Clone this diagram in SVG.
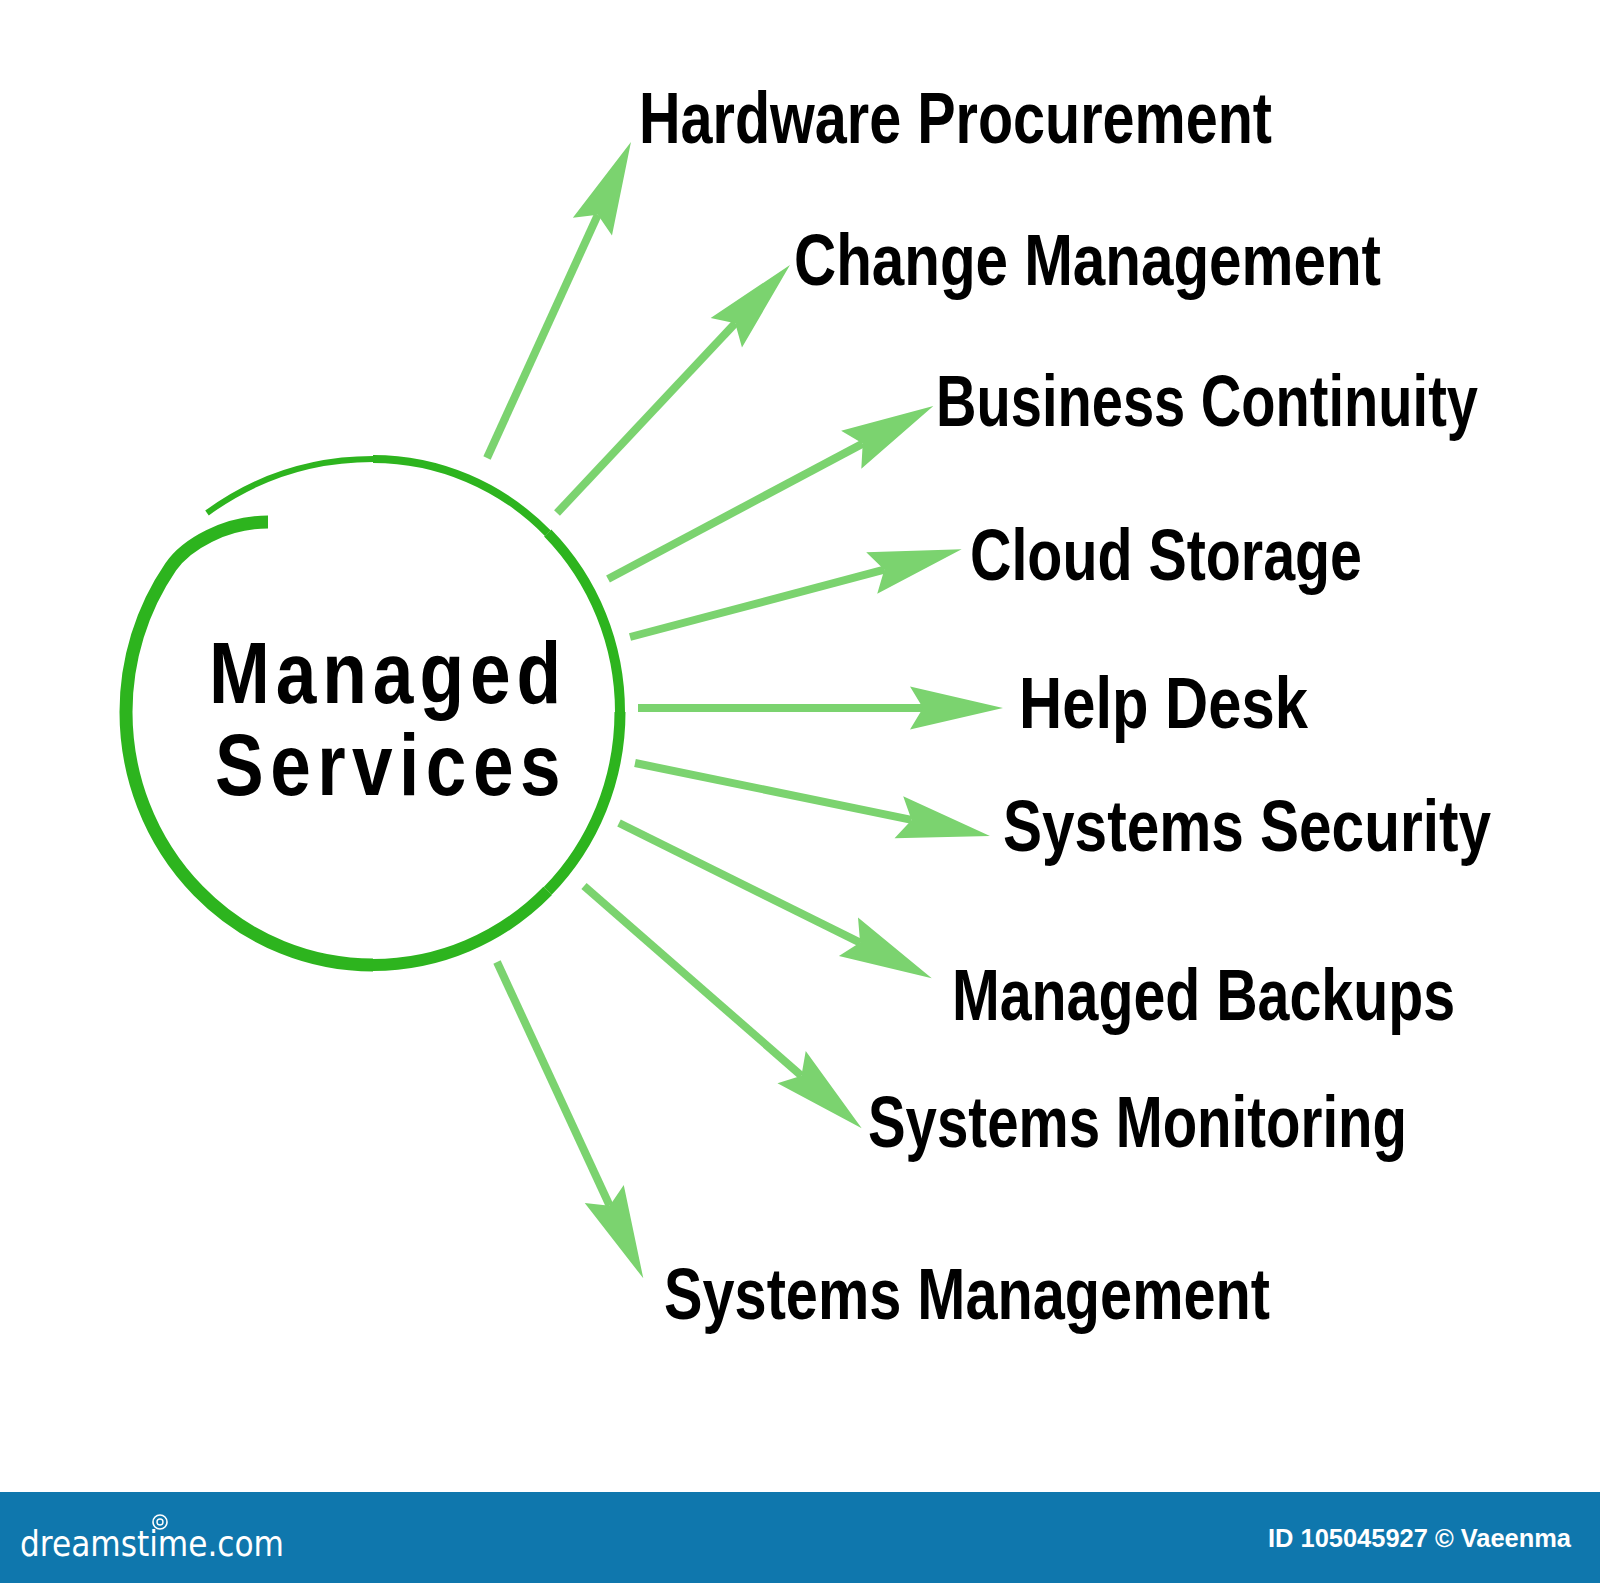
<svg xmlns="http://www.w3.org/2000/svg" width="1600" height="1583" viewBox="0 0 1600 1583">
  <style>
    .lbl { font-family: "Liberation Sans", Arial, sans-serif; font-weight: bold; font-size: 73px; fill: #000; }
    .ctr { font-family: "Liberation Sans", Arial, sans-serif; font-weight: bold; font-size: 88px; fill: #000; }
    .conn { stroke: #7bd36f; stroke-width: 8; fill: none; marker-end: url(#ah); }
    .ring { stroke: #2db41e; fill: none; stroke-linecap: butt; }
    .foot { fill: #ffffff; }
  </style>
  <defs>
    <marker id="ah" markerUnits="userSpaceOnUse" viewBox="-14 -23 96 46" markerWidth="96" markerHeight="46" refX="0" refY="0" orient="auto" overflow="visible">
      <path d="M80,0 L-13,-21.5 L0,0 L-13,21.5 Z" fill="#7bd36f"/>
    </marker>
  </defs>
  <rect x="0" y="0" width="1600" height="1583" fill="#ffffff"/>

  <g id="connectors">
    <line class="conn" x1="487" y1="458" x2="597.8" y2="214.8"/>
    <line class="conn" x1="557" y1="513" x2="735.2" y2="323.3"/>
    <line class="conn" x1="608" y1="579" x2="862.7" y2="443.6"/>
    <line class="conn" x1="630" y1="637" x2="884.3" y2="569.7"/>
    <line class="conn" x1="638" y1="708" x2="923" y2="708"/>
    <line class="conn" x1="635" y1="763" x2="911.6" y2="819.9"/>
    <line class="conn" x1="619" y1="823" x2="860.1" y2="942.6"/>
    <line class="conn" x1="584" y1="886" x2="801.4" y2="1075.7"/>
    <line class="conn" x1="497" y1="962" x2="609.7" y2="1205.7"/>
  </g>

  <g id="node-managed-services">
    <path class="ring" stroke-width="6" stroke-linecap="round" d="M207,513 C255,478 310,459 373,459"/>
    <path class="ring" stroke-width="8" d="M373,459 A247 253 0 0 1 547.7,533.1"/>
    <path class="ring" stroke-width="10" d="M547.7,533.1 A247 253 0 0 1 620,712"/>
    <path class="ring" stroke-width="11" d="M620,712 A247 253 0 0 1 547.7,890.9"/>
    <path class="ring" stroke-width="12" d="M547.7,890.9 A247 253 0 0 1 373,965"/>
    <path class="ring" stroke-width="13" d="M373,965 A247 253 0 0 1 126,712"/>
    <path class="ring" stroke-width="13" d="M126,712 A247 253 0 0 1 170.7,566.9 C186,544.5 225,522 268,522"/>
    <text class="ctr" x="209" y="703" letter-spacing="7.1" textLength="358" lengthAdjust="spacingAndGlyphs">Managed</text>
    <text class="ctr" x="215" y="795" letter-spacing="7.8" textLength="352" lengthAdjust="spacingAndGlyphs">Services</text>
  </g>

  <g id="node-hardware-procurement"><text class="lbl" x="639" y="143" textLength="633" lengthAdjust="spacingAndGlyphs">Hardware Procurement</text></g>
  <g id="node-change-management"><text class="lbl" x="794" y="285" textLength="587" lengthAdjust="spacingAndGlyphs">Change Management</text></g>
  <g id="node-business-continuity"><text class="lbl" x="936" y="426" textLength="542" lengthAdjust="spacingAndGlyphs">Business Continuity</text></g>
  <g id="node-cloud-storage"><text class="lbl" x="970" y="580" textLength="392" lengthAdjust="spacingAndGlyphs">Cloud Storage</text></g>
  <g id="node-help-desk"><text class="lbl" x="1019" y="728" textLength="289" lengthAdjust="spacingAndGlyphs">Help Desk</text></g>
  <g id="node-systems-security"><text class="lbl" x="1003" y="851" textLength="488" lengthAdjust="spacingAndGlyphs">Systems Security</text></g>
  <g id="node-managed-backups"><text class="lbl" x="952" y="1020" textLength="503" lengthAdjust="spacingAndGlyphs">Managed Backups</text></g>
  <g id="node-systems-monitoring"><text class="lbl" x="868" y="1147" textLength="539" lengthAdjust="spacingAndGlyphs">Systems Monitoring</text></g>
  <g id="node-systems-management"><text class="lbl" x="664" y="1319" textLength="606" lengthAdjust="spacingAndGlyphs">Systems Management</text></g>

  <g id="footer">
    <rect x="0" y="1492" width="1600" height="91" fill="#0f77ad"/>
    <text x="20" y="1556" font-family="'DejaVu Sans', sans-serif" font-size="36" class="foot" textLength="264" lengthAdjust="spacingAndGlyphs">dreamstime.com</text>
    <circle cx="160" cy="1522" r="7" fill="none" stroke="#ffffff" stroke-width="1.6"/>
    <circle cx="160" cy="1522" r="3" fill="none" stroke="#ffffff" stroke-width="1.4"/>
    <text x="1268" y="1547" font-family="'Liberation Sans', Arial, sans-serif" font-weight="bold" font-size="26" class="foot" textLength="303" lengthAdjust="spacingAndGlyphs">ID 105045927 © Vaeenma</text>
  </g>
</svg>
